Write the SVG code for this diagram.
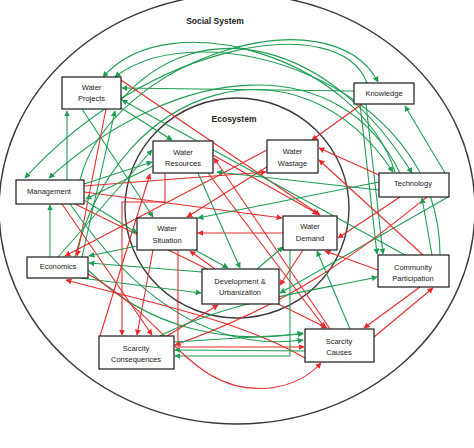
<svg xmlns="http://www.w3.org/2000/svg" width="474" height="448" viewBox="0 0 474 448">
<style>
.bg{fill:#fff}
.sys{fill:none;stroke:#3a3a3a;stroke-width:1.4}
.ttl{font-family:"Liberation Sans",Arial,sans-serif;font-size:8.5px;font-weight:bold;fill:#222;text-anchor:middle}
.box{fill:#fff;stroke:#1a1a1a;stroke-width:1.2}
.lbl{font-family:"Liberation Sans",Arial,sans-serif;font-size:7.5px;fill:#222;text-anchor:middle}
.g{fill:none;stroke:#1f9e52;stroke-width:1.1;marker-end:url(#ag)}
.r{fill:none;stroke:#ea2a2a;stroke-width:1.1;marker-end:url(#ar)}
</style>
<defs>
<marker id="ag" viewBox="0 0 10 10" refX="9" refY="5" markerUnits="userSpaceOnUse" markerWidth="6" markerHeight="6" orient="auto"><path d="M0,0 L10,5 L0,10 z" fill="#1f9e52"/></marker>
<marker id="ar" viewBox="0 0 10 10" refX="9" refY="5" markerUnits="userSpaceOnUse" markerWidth="6" markerHeight="6" orient="auto"><path d="M0,0 L10,5 L0,10 z" fill="#ea2a2a"/></marker>
</defs>
<rect class="bg" x="0" y="0" width="474" height="448"/>
<g id="systems">
<ellipse class="sys" cx="237" cy="209" rx="238" ry="215"/>
<ellipse class="sys" cx="237" cy="208" rx="112" ry="110"/>
<text class="ttl" x="215" y="24">Social System</text>
<text class="ttl" x="234" y="122">Ecosystem</text>
</g>
<g id="connectors">
<path class="g" d="M395,172 C360,60 170,0 103,77"/>
<path class="g" d="M440,255 C440,80 200,10 115,77"/>
<path class="g" d="M80,180 C110,60 330,-10 378,82"/>
<path class="g" d="M367,83 C340,10 150,40 25,178"/>
<path class="g" d="M400,173 C340,50 180,60 49,178"/>
<path class="g" d="M121,100 C200,10 330,40 412,173"/>
<path class="g" d="M75,257 C120,80 300,30 393,172"/>
<path class="g" d="M354,91 L122,88"/>
<path class="g" d="M67,180 L67,111"/>
<path class="g" d="M82,257 L115,111"/>
<path class="g" d="M82,109 L153,217"/>
<path class="g" d="M118,106 L172,140"/>
<path class="r" d="M121,80 L320,215"/>
<path class="r" d="M106,109 L77,256"/>
<path class="r" d="M362,104 L312,140"/>
<path class="g" d="M360,104 L377,254"/>
<path class="g" d="M366,104 L383,254"/>
<path class="g" d="M448,178 L405,106"/>
<path class="r" d="M84,186 L266,172"/>
<path class="r" d="M84,192 L282,218"/>
<path class="r" d="M165,173 L165,202 L122,202 L122,335"/>
<path class="r" d="M75,204 L327,328"/>
<path class="r" d="M62,204 L152,335"/>
<path class="r" d="M153,250 L137,335"/>
<path class="r" d="M267,150 L65,256"/>
<path class="r" d="M270,165 L187,217"/>
<path class="g" d="M202,272 L89,263"/>
<path class="g" d="M137,246 L89,256"/>
<path class="g" d="M50,257 L50,205"/>
<path class="g" d="M58,257 L152,150"/>
<path class="g" d="M84,184 L152,162"/>
<path class="g" d="M153,166 L86,199"/>
<path class="g" d="M80,278 L201,293"/>
<path class="g" d="M88,270 C150,330 230,345 303,333"/>
<path class="g" d="M70,204 C150,320 230,350 303,340"/>
<path class="r" d="M100,336 L150,174"/>
<path class="r" d="M330,329 L214,158"/>
<path class="r" d="M208,173 L325,328"/>
<path class="r" d="M213,155 L318,214"/>
<path class="g" d="M379,190 L217,172"/>
<path class="g" d="M379,182 L198,218"/>
<path class="r" d="M283,233 L198,233"/>
<path class="r" d="M215,269 L190,251"/>
<path class="g" d="M195,250 L228,268"/>
<path class="g" d="M84,200 L137,233"/>
<path class="r" d="M178,250 L178,347 L304,347"/>
<path class="g" d="M198,173 L240,268"/>
<path class="r" d="M303,250 L280,285"/>
<path class="g" d="M448,197 L280,293"/>
<path class="r" d="M167,336 L218,305"/>
<path class="g" d="M257,269 L283,247"/>
<path class="r" d="M400,197 L338,238"/>
<path class="r" d="M427,197 C360,250 300,300 175,345"/>
<path class="g" d="M350,329 L317,251"/>
<path class="r" d="M378,270 L325,251"/>
<path class="g" d="M290,250 L290,356 L175,356"/>
<path class="r" d="M379,175 L319,148"/>
<path class="r" d="M423,255 L319,160"/>
<path class="g" d="M432,255 L422,198"/>
<path class="r" d="M420,287 L364,328"/>
<path class="r" d="M374,337 L433,288"/>
<path class="r" d="M305,358 C240,320 140,300 66,280"/>
<path class="r" d="M88,274 C170,320 190,395 270,388 C295,385 310,375 321,363"/>
<path class="g" d="M174,342 L303,334"/>
<path class="g" d="M305,351 L175,350"/>
<path class="g" d="M160,336 C230,300 320,290 377,277"/>
<path class="g" d="M405,255 L122,100"/>
</g>
<g id="water-projects"><rect class="box" x="62" y="77" width="59" height="32"/><text class="lbl" x="91.5" y="90">Water</text><text class="lbl" x="91.5" y="101">Projects</text></g>
<g id="knowledge"><rect class="box" x="354" y="83" width="60" height="21"/><text class="lbl" x="384" y="96">Knowledge</text></g>
<g id="water-resources"><rect class="box" x="153" y="141" width="60" height="32"/><text class="lbl" x="183" y="155">Water</text><text class="lbl" x="183" y="166">Resources</text></g>
<g id="water-wastage"><rect class="box" x="267" y="140" width="51" height="33"/><text class="lbl" x="292.5" y="154">Water</text><text class="lbl" x="292.5" y="166">Wastage</text></g>
<g id="management"><rect class="box" x="16" y="180" width="68" height="24"/><text class="lbl" x="49" y="194">Management</text></g>
<g id="technology"><rect class="box" x="379" y="173" width="70" height="24"/><text class="lbl" x="413" y="186">Technology</text></g>
<g id="water-situation"><rect class="box" x="137" y="218" width="60" height="32"/><text class="lbl" x="167" y="231">Water</text><text class="lbl" x="167" y="243">Situation</text></g>
<g id="water-demand"><rect class="box" x="283" y="216" width="54" height="34"/><text class="lbl" x="310" y="229">Water</text><text class="lbl" x="310" y="241">Demand</text></g>
<g id="economics"><rect class="box" x="27" y="257" width="61" height="21"/><text class="lbl" x="58" y="269">Economics</text></g>
<g id="development-urbanization"><rect class="box" x="202" y="269" width="77" height="35"/><text class="lbl" x="240" y="284">Development &amp;</text><text class="lbl" x="240" y="295">Urbanization</text></g>
<g id="community-participation"><rect class="box" x="378" y="255" width="71" height="32"/><text class="lbl" x="413" y="270">Community</text><text class="lbl" x="413" y="281">Participation</text></g>
<g id="scarcity-consequences"><rect class="box" x="99" y="336" width="75" height="33"/><text class="lbl" x="136" y="351">Scarcity</text><text class="lbl" x="136" y="362">Consequences</text></g>
<g id="scarcity-causes"><rect class="box" x="305" y="329" width="69" height="33"/><text class="lbl" x="339" y="344">Scarcity</text><text class="lbl" x="339" y="355">Causes</text></g>
</svg>
